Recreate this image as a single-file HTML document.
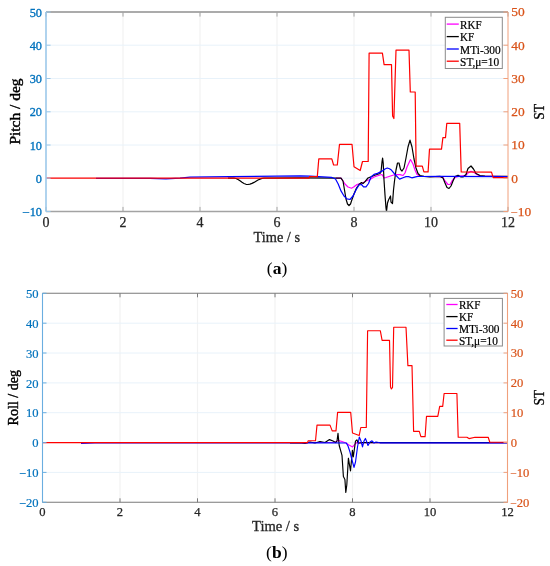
<!DOCTYPE html>
<html><head><meta charset="utf-8"><title>Pitch and Roll</title><style>html,body{margin:0;padding:0;background:#fff;width:550px;height:566px;overflow:hidden}svg{display:block}</style></head><body>
<svg width="550" height="566" viewBox="0 0 550 566" font-family="'Liberation Serif', 'Times New Roman', serif">
<rect width="550" height="566" fill="#fff"/>
<line x1="123.0" y1="12.0" x2="123.0" y2="211.5" stroke="#f2f2f2" stroke-width="1.2"/>
<line x1="200.0" y1="12.0" x2="200.0" y2="211.5" stroke="#f2f2f2" stroke-width="1.2"/>
<line x1="277.0" y1="12.0" x2="277.0" y2="211.5" stroke="#f2f2f2" stroke-width="1.2"/>
<line x1="354.0" y1="12.0" x2="354.0" y2="211.5" stroke="#f2f2f2" stroke-width="1.2"/>
<line x1="431.0" y1="12.0" x2="431.0" y2="211.5" stroke="#f2f2f2" stroke-width="1.2"/>
<line x1="46.0" y1="45.2" x2="508.0" y2="45.2" stroke="#e8f2fa" stroke-width="1"/>
<line x1="46.0" y1="78.5" x2="508.0" y2="78.5" stroke="#e8f2fa" stroke-width="1"/>
<line x1="46.0" y1="111.8" x2="508.0" y2="111.8" stroke="#e8f2fa" stroke-width="1"/>
<line x1="46.0" y1="145.0" x2="508.0" y2="145.0" stroke="#e8f2fa" stroke-width="1"/>
<line x1="46.0" y1="178.2" x2="508.0" y2="178.2" stroke="#e8f2fa" stroke-width="1"/>
<polyline points="336.0,178.2 341.0,178.1 343.0,181.0 345.0,184.0 348.0,187.0 351.5,188.2 354.0,186.8 357.0,184.5 360.0,183.7 363.0,182.8 366.0,181.0 370.0,179.5 374.0,177.0 377.0,176.0 380.0,175.0 382.0,174.5 384.0,178.0 386.0,177.5 389.0,176.5 392.0,175.5 395.5,174.5 400.0,174.6 403.0,175.5 405.0,173.0 407.0,167.0 410.5,159.5 413.0,164.0 415.0,170.0 417.0,174.5 420.0,176.3 425.0,176.5 440.0,176.6 443.0,177.5 445.0,181.0 448.0,184.5 450.0,184.5 452.0,181.0 455.0,177.5 460.0,176.0 466.0,175.5 468.0,173.0 471.0,171.3 474.0,172.5 477.0,174.5 480.0,176.0 508.0,176.5" fill="none" stroke="#ff00ff" stroke-width="1.2" stroke-linejoin="round"/>
<polyline points="228.0,178.2 234.0,178.2 236.0,178.5 238.0,179.5 240.0,180.8 242.0,182.3 244.0,183.5 246.0,184.3 248.0,184.5 250.0,184.1 252.0,183.4 254.0,182.4 256.0,181.2 258.0,180.0 260.0,179.1 262.0,178.4 264.0,178.2 300.0,177.9 341.0,178.1 343.0,181.0 344.5,190.0 346.0,199.0 347.5,204.0 349.0,205.5 350.5,204.0 352.0,199.5 354.0,194.0 356.5,188.0 359.0,184.5 361.5,182.5 363.0,183.5 365.0,181.6 368.0,178.0 371.0,176.8 374.0,175.5 377.0,174.5 380.0,173.5 381.0,172.0 382.0,162.0 382.6,158.0 383.2,163.0 384.0,180.0 385.0,195.0 386.0,208.0 386.5,211.5 387.5,203.0 388.5,200.0 389.5,198.0 390.5,196.0 391.0,202.0 392.5,203.5 393.5,190.0 394.5,181.0 396.0,170.0 397.5,163.0 399.0,163.0 400.5,169.3 402.0,171.0 404.0,168.0 406.0,158.0 408.0,147.0 410.0,140.2 412.0,147.0 414.0,159.0 416.0,168.0 418.0,173.5 420.0,175.5 424.0,176.3 430.0,176.8 440.0,176.4 443.0,178.0 445.0,183.0 447.0,187.5 449.0,188.5 451.0,186.0 453.0,181.0 455.0,176.5 458.0,175.2 461.0,177.0 463.0,177.0 466.0,174.5 468.0,168.5 471.0,166.0 473.5,169.0 476.0,173.5 480.0,175.5 485.0,176.0 508.0,176.3" fill="none" stroke="#000" stroke-width="1.2" stroke-linejoin="round"/>
<polyline points="96.0,178.3 150.0,178.3 166.0,178.8 180.0,178.2 190.0,177.2 230.0,176.6 300.0,175.8 310.0,176.2 331.4,177.3 335.5,179.0 338.2,184.0 341.0,190.9 344.0,196.0 347.0,198.9 350.0,199.5 353.0,196.0 356.0,190.0 359.0,185.0 361.5,184.5 363.5,186.8 366.0,186.9 368.5,183.5 371.0,177.0 374.0,174.4 377.5,173.4 382.4,170.9 385.0,169.0 387.3,168.0 389.5,168.8 391.4,170.1 395.5,175.0 399.6,179.1 403.6,177.5 406.0,176.6 408.6,176.6 411.8,177.8 416.7,176.6 418.0,176.5 440.0,176.4 508.0,176.6" fill="none" stroke="#0000ff" stroke-width="1.2" stroke-linejoin="round"/>
<polyline points="46.0,178.2 309.0,178.2 309.5,176.6 317.3,176.6 318.8,158.9 331.8,158.9 333.6,165.0 337.3,165.0 339.5,144.4 352.0,144.3 354.0,166.7 360.2,170.5 362.5,161.5 368.2,161.5 369.1,53.2 382.4,53.2 384.1,64.7 391.5,64.7 392.6,116.0 393.9,118.5 396.0,50.2 409.0,50.2 410.3,92.0 415.2,92.0 416.1,166.1 422.3,166.1 423.9,171.9 428.1,171.9 429.5,149.1 441.5,149.1 442.9,137.6 445.5,137.6 446.8,123.3 459.7,123.3 461.2,171.9 491.5,172.1 493.2,177.7 508.0,177.7" fill="none" stroke="#ff0000" stroke-width="1.2" stroke-linejoin="round"/>
<line x1="46.0" y1="12.0" x2="508.0" y2="12.0" stroke="#8f8f8f" stroke-width="1.5"/>
<line x1="46.0" y1="211.5" x2="508.0" y2="211.5" stroke="#a3a3a3" stroke-width="1.3"/>
<line x1="46.0" y1="12.0" x2="46.0" y2="16.6" stroke="#a3a3a3" stroke-width="1.0"/>
<line x1="46.0" y1="211.5" x2="46.0" y2="206.9" stroke="#a3a3a3" stroke-width="1.0"/>
<line x1="123.0" y1="12.0" x2="123.0" y2="16.6" stroke="#a3a3a3" stroke-width="1.0"/>
<line x1="123.0" y1="211.5" x2="123.0" y2="206.9" stroke="#a3a3a3" stroke-width="1.0"/>
<line x1="200.0" y1="12.0" x2="200.0" y2="16.6" stroke="#a3a3a3" stroke-width="1.0"/>
<line x1="200.0" y1="211.5" x2="200.0" y2="206.9" stroke="#a3a3a3" stroke-width="1.0"/>
<line x1="277.0" y1="12.0" x2="277.0" y2="16.6" stroke="#a3a3a3" stroke-width="1.0"/>
<line x1="277.0" y1="211.5" x2="277.0" y2="206.9" stroke="#a3a3a3" stroke-width="1.0"/>
<line x1="354.0" y1="12.0" x2="354.0" y2="16.6" stroke="#a3a3a3" stroke-width="1.0"/>
<line x1="354.0" y1="211.5" x2="354.0" y2="206.9" stroke="#a3a3a3" stroke-width="1.0"/>
<line x1="431.0" y1="12.0" x2="431.0" y2="16.6" stroke="#a3a3a3" stroke-width="1.0"/>
<line x1="431.0" y1="211.5" x2="431.0" y2="206.9" stroke="#a3a3a3" stroke-width="1.0"/>
<line x1="508.0" y1="12.0" x2="508.0" y2="16.6" stroke="#a3a3a3" stroke-width="1.0"/>
<line x1="508.0" y1="211.5" x2="508.0" y2="206.9" stroke="#a3a3a3" stroke-width="1.0"/>
<line x1="46.0" y1="12.0" x2="46.0" y2="211.5" stroke="#9cc8ea" stroke-width="1.6"/>
<line x1="508.0" y1="12.0" x2="508.0" y2="211.5" stroke="#f0a07c" stroke-width="1.0"/>
<line x1="46.0" y1="12.0" x2="50.6" y2="12.0" stroke="#9cc8ea" stroke-width="1.0"/>
<line x1="508.0" y1="12.0" x2="503.4" y2="12.0" stroke="#f0a07c" stroke-width="1.0"/>
<line x1="46.0" y1="45.2" x2="50.6" y2="45.2" stroke="#9cc8ea" stroke-width="1.0"/>
<line x1="508.0" y1="45.2" x2="503.4" y2="45.2" stroke="#f0a07c" stroke-width="1.0"/>
<line x1="46.0" y1="78.5" x2="50.6" y2="78.5" stroke="#9cc8ea" stroke-width="1.0"/>
<line x1="508.0" y1="78.5" x2="503.4" y2="78.5" stroke="#f0a07c" stroke-width="1.0"/>
<line x1="46.0" y1="111.8" x2="50.6" y2="111.8" stroke="#9cc8ea" stroke-width="1.0"/>
<line x1="508.0" y1="111.8" x2="503.4" y2="111.8" stroke="#f0a07c" stroke-width="1.0"/>
<line x1="46.0" y1="145.0" x2="50.6" y2="145.0" stroke="#9cc8ea" stroke-width="1.0"/>
<line x1="508.0" y1="145.0" x2="503.4" y2="145.0" stroke="#f0a07c" stroke-width="1.0"/>
<line x1="46.0" y1="178.2" x2="50.6" y2="178.2" stroke="#9cc8ea" stroke-width="1.0"/>
<line x1="508.0" y1="178.2" x2="503.4" y2="178.2" stroke="#f0a07c" stroke-width="1.0"/>
<line x1="46.0" y1="211.5" x2="50.6" y2="211.5" stroke="#9cc8ea" stroke-width="1.0"/>
<line x1="508.0" y1="211.5" x2="503.4" y2="211.5" stroke="#f0a07c" stroke-width="1.0"/>
<text x="42.0" y="16.6" text-anchor="end" font-size="13.4" fill="#0072BD" stroke="#0072BD" stroke-width="0.35" textLength="12.33" lengthAdjust="spacingAndGlyphs">50</text>
<text x="511.2" y="16.3" text-anchor="start" font-size="13.4" fill="#D95319" stroke="#D95319" stroke-width="0.25">50</text>
<text x="42.0" y="49.9" text-anchor="end" font-size="13.4" fill="#0072BD" stroke="#0072BD" stroke-width="0.35" textLength="12.33" lengthAdjust="spacingAndGlyphs">40</text>
<text x="511.2" y="49.5" text-anchor="start" font-size="13.4" fill="#D95319" stroke="#D95319" stroke-width="0.25">40</text>
<text x="42.0" y="83.1" text-anchor="end" font-size="13.4" fill="#0072BD" stroke="#0072BD" stroke-width="0.35" textLength="12.33" lengthAdjust="spacingAndGlyphs">30</text>
<text x="511.2" y="82.8" text-anchor="start" font-size="13.4" fill="#D95319" stroke="#D95319" stroke-width="0.25">30</text>
<text x="42.0" y="116.3" text-anchor="end" font-size="13.4" fill="#0072BD" stroke="#0072BD" stroke-width="0.35" textLength="12.33" lengthAdjust="spacingAndGlyphs">20</text>
<text x="511.2" y="116.0" text-anchor="start" font-size="13.4" fill="#D95319" stroke="#D95319" stroke-width="0.25">20</text>
<text x="42.0" y="149.6" text-anchor="end" font-size="13.4" fill="#0072BD" stroke="#0072BD" stroke-width="0.35" textLength="12.33" lengthAdjust="spacingAndGlyphs">10</text>
<text x="511.2" y="149.3" text-anchor="start" font-size="13.4" fill="#D95319" stroke="#D95319" stroke-width="0.25">10</text>
<text x="42.0" y="182.8" text-anchor="end" font-size="13.4" fill="#0072BD" stroke="#0072BD" stroke-width="0.35" textLength="6.16" lengthAdjust="spacingAndGlyphs">0</text>
<text x="511.2" y="182.6" text-anchor="start" font-size="13.4" fill="#D95319" stroke="#D95319" stroke-width="0.25">0</text>
<text x="42.0" y="216.1" text-anchor="end" font-size="13.4" fill="#0072BD" stroke="#0072BD" stroke-width="0.35" textLength="12.33" lengthAdjust="spacingAndGlyphs">10</text>
<text x="29.1" y="214.8" text-anchor="end" font-size="13.4" fill="#0072BD" stroke="#0072BD" stroke-width="0.35" textLength="6" lengthAdjust="spacingAndGlyphs">–</text>
<text x="511.2" y="214.5" font-size="13.4" fill="#D95319" textLength="6" lengthAdjust="spacingAndGlyphs">–</text>
<text x="517.8" y="215.8" text-anchor="start" font-size="13.4" fill="#D95319" stroke="#D95319" stroke-width="0.25">10</text>
<text x="46.0" y="226.7" text-anchor="middle" font-size="14" fill="#262626" stroke="#262626" stroke-width="0.25">0</text>
<text x="123.0" y="226.7" text-anchor="middle" font-size="14" fill="#262626" stroke="#262626" stroke-width="0.25">2</text>
<text x="200.0" y="226.7" text-anchor="middle" font-size="14" fill="#262626" stroke="#262626" stroke-width="0.25">4</text>
<text x="277.0" y="226.7" text-anchor="middle" font-size="14" fill="#262626" stroke="#262626" stroke-width="0.25">6</text>
<text x="354.0" y="226.7" text-anchor="middle" font-size="14" fill="#262626" stroke="#262626" stroke-width="0.25">8</text>
<text x="431.0" y="226.7" text-anchor="middle" font-size="14" fill="#262626" stroke="#262626" stroke-width="0.25">10</text>
<text x="508.0" y="226.7" text-anchor="middle" font-size="14" fill="#262626" stroke="#262626" stroke-width="0.25">12</text>
<text transform="translate(20.2,144.6) rotate(-90)" font-size="14" fill="#000" stroke="#000" stroke-width="0.4" textLength="66.1" lengthAdjust="spacingAndGlyphs">Pitch / deg</text>
<text transform="translate(544.0,119.7) rotate(-90)" font-size="14" fill="#000" stroke="#000" stroke-width="0.3" textLength="15.7" lengthAdjust="spacingAndGlyphs">ST</text>
<text x="253.5" y="241.5" font-size="14" fill="#262626" stroke="#262626" stroke-width="0.3" textLength="46.5" lengthAdjust="spacingAndGlyphs">Time / s</text>
<text x="277" y="273.8" text-anchor="middle" font-size="17.5" fill="#000">(<tspan font-weight="bold">a</tspan>)</text>
<rect x="445.3" y="17.3" width="57.0" height="51.2" fill="#fff" stroke="#8a8a8a" stroke-width="1"/>
<line x1="446.7" y1="24.1" x2="458.8" y2="24.1" stroke="#ff00ff" stroke-width="1.3"/>
<text x="460.1" y="28.6" font-size="11.8" fill="#000" stroke="#000" stroke-width="0.2" textLength="21.6" lengthAdjust="spacingAndGlyphs">RKF</text>
<line x1="446.7" y1="36.6" x2="458.8" y2="36.6" stroke="#000" stroke-width="1.3"/>
<text x="460.1" y="41.1" font-size="11.8" fill="#000" stroke="#000" stroke-width="0.2" textLength="14.2" lengthAdjust="spacingAndGlyphs">KF</text>
<line x1="446.7" y1="49.0" x2="458.8" y2="49.0" stroke="#0000ff" stroke-width="1.3"/>
<text x="460.1" y="53.5" font-size="11.8" fill="#000" stroke="#000" stroke-width="0.2" textLength="40.6" lengthAdjust="spacingAndGlyphs">MTi-300</text>
<line x1="446.7" y1="61.2" x2="458.8" y2="61.2" stroke="#ff0000" stroke-width="1.3"/>
<text x="460.1" y="65.7" font-size="11.8" fill="#000" stroke="#000" stroke-width="0.2" textLength="39.0" lengthAdjust="spacingAndGlyphs">ST,μ=10</text>
<line x1="120.0" y1="293.3" x2="120.0" y2="502.3" stroke="#f2f2f2" stroke-width="1.2"/>
<line x1="197.5" y1="293.3" x2="197.5" y2="502.3" stroke="#f2f2f2" stroke-width="1.2"/>
<line x1="275.0" y1="293.3" x2="275.0" y2="502.3" stroke="#f2f2f2" stroke-width="1.2"/>
<line x1="352.5" y1="293.3" x2="352.5" y2="502.3" stroke="#f2f2f2" stroke-width="1.2"/>
<line x1="430.0" y1="293.3" x2="430.0" y2="502.3" stroke="#f2f2f2" stroke-width="1.2"/>
<line x1="42.5" y1="323.2" x2="507.5" y2="323.2" stroke="#e8f2fa" stroke-width="1"/>
<line x1="42.5" y1="353.0" x2="507.5" y2="353.0" stroke="#e8f2fa" stroke-width="1"/>
<line x1="42.5" y1="382.9" x2="507.5" y2="382.9" stroke="#e8f2fa" stroke-width="1"/>
<line x1="42.5" y1="412.7" x2="507.5" y2="412.7" stroke="#e8f2fa" stroke-width="1"/>
<line x1="42.5" y1="442.6" x2="507.5" y2="442.6" stroke="#e8f2fa" stroke-width="1"/>
<line x1="42.5" y1="472.4" x2="507.5" y2="472.4" stroke="#e8f2fa" stroke-width="1"/>
<polyline points="300.0,442.6 335.0,442.3 338.0,440.4 342.0,441.5 346.0,443.0 349.0,445.0 352.6,446.9 355.0,444.0 357.0,442.5 507.5,442.6" fill="none" stroke="#ff00ff" stroke-width="1.15" stroke-linejoin="round"/>
<polyline points="290.0,442.8 300.0,442.8 305.0,443.5 310.0,442.0 315.0,443.0 320.0,441.5 325.0,442.5 329.5,439.6 333.0,441.0 335.7,442.6 337.0,441.0 338.0,433.4 339.2,445.5 342.0,455.4 343.4,476.6 344.9,479.4 345.8,492.4 346.8,485.0 348.4,458.2 350.5,471.0 352.4,450.4 353.3,456.8 355.5,441.2 356.9,439.8 358.3,443.3 362.0,442.6 507.5,442.6" fill="none" stroke="#000" stroke-width="1.15" stroke-linejoin="round"/>
<polyline points="81.0,443.4 95.0,442.9 290.0,442.9 330.0,442.9 346.3,443.0 348.0,446.0 350.0,452.0 352.0,460.0 354.0,467.4 355.5,462.0 357.5,447.0 359.3,437.0 361.0,441.0 362.5,446.9 364.0,441.0 365.4,438.4 366.8,442.0 368.0,445.5 370.0,442.0 372.0,440.8 374.0,443.0 376.0,442.0 380.0,442.8 507.5,442.9" fill="none" stroke="#0000ff" stroke-width="1.15" stroke-linejoin="round"/>
<polyline points="42.5,442.6 307.5,442.6 308.2,440.7 315.5,440.7 317.0,425.1 330.0,425.1 332.2,430.9 336.0,430.9 337.6,412.4 350.7,412.4 352.5,433.0 359.2,435.5 360.8,427.5 366.3,427.5 367.6,330.7 380.3,330.7 382.1,340.3 389.5,340.3 390.5,387.0 391.4,389.0 392.5,387.5 393.7,327.2 406.0,327.2 407.9,365.6 412.0,365.6 413.6,431.3 419.3,431.3 420.9,436.6 425.1,436.6 426.5,416.3 437.8,416.3 439.7,406.4 442.7,406.4 444.1,393.5 456.9,393.5 458.2,437.2 466.9,437.2 469.0,438.6 475.0,437.3 488.2,437.3 489.8,442.2 507.5,442.2" fill="none" stroke="#ff0000" stroke-width="1.15" stroke-linejoin="round"/>
<line x1="42.5" y1="293.3" x2="507.5" y2="293.3" stroke="#7a7a7a" stroke-width="1.1"/>
<line x1="42.5" y1="502.3" x2="507.5" y2="502.3" stroke="#7a7a7a" stroke-width="1.1"/>
<line x1="42.5" y1="293.3" x2="42.5" y2="297.3" stroke="#7a7a7a" stroke-width="1.0"/>
<line x1="42.5" y1="502.3" x2="42.5" y2="498.3" stroke="#7a7a7a" stroke-width="1.0"/>
<line x1="120.0" y1="293.3" x2="120.0" y2="297.3" stroke="#7a7a7a" stroke-width="1.0"/>
<line x1="120.0" y1="502.3" x2="120.0" y2="498.3" stroke="#7a7a7a" stroke-width="1.0"/>
<line x1="197.5" y1="293.3" x2="197.5" y2="297.3" stroke="#7a7a7a" stroke-width="1.0"/>
<line x1="197.5" y1="502.3" x2="197.5" y2="498.3" stroke="#7a7a7a" stroke-width="1.0"/>
<line x1="275.0" y1="293.3" x2="275.0" y2="297.3" stroke="#7a7a7a" stroke-width="1.0"/>
<line x1="275.0" y1="502.3" x2="275.0" y2="498.3" stroke="#7a7a7a" stroke-width="1.0"/>
<line x1="352.5" y1="293.3" x2="352.5" y2="297.3" stroke="#7a7a7a" stroke-width="1.0"/>
<line x1="352.5" y1="502.3" x2="352.5" y2="498.3" stroke="#7a7a7a" stroke-width="1.0"/>
<line x1="430.0" y1="293.3" x2="430.0" y2="297.3" stroke="#7a7a7a" stroke-width="1.0"/>
<line x1="430.0" y1="502.3" x2="430.0" y2="498.3" stroke="#7a7a7a" stroke-width="1.0"/>
<line x1="507.5" y1="293.3" x2="507.5" y2="297.3" stroke="#7a7a7a" stroke-width="1.0"/>
<line x1="507.5" y1="502.3" x2="507.5" y2="498.3" stroke="#7a7a7a" stroke-width="1.0"/>
<line x1="42.5" y1="293.3" x2="42.5" y2="502.3" stroke="#6aaee0" stroke-width="1.1"/>
<line x1="507.5" y1="293.3" x2="507.5" y2="502.3" stroke="#f0a07c" stroke-width="1.1"/>
<line x1="42.5" y1="293.3" x2="46.5" y2="293.3" stroke="#6aaee0" stroke-width="1.0"/>
<line x1="507.5" y1="293.3" x2="503.5" y2="293.3" stroke="#f0a07c" stroke-width="1.0"/>
<line x1="42.5" y1="323.2" x2="46.5" y2="323.2" stroke="#6aaee0" stroke-width="1.0"/>
<line x1="507.5" y1="323.2" x2="503.5" y2="323.2" stroke="#f0a07c" stroke-width="1.0"/>
<line x1="42.5" y1="353.0" x2="46.5" y2="353.0" stroke="#6aaee0" stroke-width="1.0"/>
<line x1="507.5" y1="353.0" x2="503.5" y2="353.0" stroke="#f0a07c" stroke-width="1.0"/>
<line x1="42.5" y1="382.9" x2="46.5" y2="382.9" stroke="#6aaee0" stroke-width="1.0"/>
<line x1="507.5" y1="382.9" x2="503.5" y2="382.9" stroke="#f0a07c" stroke-width="1.0"/>
<line x1="42.5" y1="412.7" x2="46.5" y2="412.7" stroke="#6aaee0" stroke-width="1.0"/>
<line x1="507.5" y1="412.7" x2="503.5" y2="412.7" stroke="#f0a07c" stroke-width="1.0"/>
<line x1="42.5" y1="442.6" x2="46.5" y2="442.6" stroke="#6aaee0" stroke-width="1.0"/>
<line x1="507.5" y1="442.6" x2="503.5" y2="442.6" stroke="#f0a07c" stroke-width="1.0"/>
<line x1="42.5" y1="472.4" x2="46.5" y2="472.4" stroke="#6aaee0" stroke-width="1.0"/>
<line x1="507.5" y1="472.4" x2="503.5" y2="472.4" stroke="#f0a07c" stroke-width="1.0"/>
<line x1="42.5" y1="502.3" x2="46.5" y2="502.3" stroke="#6aaee0" stroke-width="1.0"/>
<line x1="507.5" y1="502.3" x2="503.5" y2="502.3" stroke="#f0a07c" stroke-width="1.0"/>
<text x="38.5" y="297.9" text-anchor="end" font-size="12.6" fill="#0072BD" stroke="#0072BD" stroke-width="0.2" textLength="12.60" lengthAdjust="spacingAndGlyphs">50</text>
<text x="510.7" y="297.6" text-anchor="start" font-size="12.6" fill="#D95319" stroke="#D95319" stroke-width="0.2">50</text>
<text x="38.5" y="327.8" text-anchor="end" font-size="12.6" fill="#0072BD" stroke="#0072BD" stroke-width="0.2" textLength="12.60" lengthAdjust="spacingAndGlyphs">40</text>
<text x="510.7" y="327.5" text-anchor="start" font-size="12.6" fill="#D95319" stroke="#D95319" stroke-width="0.2">40</text>
<text x="38.5" y="357.6" text-anchor="end" font-size="12.6" fill="#0072BD" stroke="#0072BD" stroke-width="0.2" textLength="12.60" lengthAdjust="spacingAndGlyphs">30</text>
<text x="510.7" y="357.3" text-anchor="start" font-size="12.6" fill="#D95319" stroke="#D95319" stroke-width="0.2">30</text>
<text x="38.5" y="387.5" text-anchor="end" font-size="12.6" fill="#0072BD" stroke="#0072BD" stroke-width="0.2" textLength="12.60" lengthAdjust="spacingAndGlyphs">20</text>
<text x="510.7" y="387.2" text-anchor="start" font-size="12.6" fill="#D95319" stroke="#D95319" stroke-width="0.2">20</text>
<text x="38.5" y="417.3" text-anchor="end" font-size="12.6" fill="#0072BD" stroke="#0072BD" stroke-width="0.2" textLength="12.60" lengthAdjust="spacingAndGlyphs">10</text>
<text x="510.7" y="417.0" text-anchor="start" font-size="12.6" fill="#D95319" stroke="#D95319" stroke-width="0.2">10</text>
<text x="38.5" y="447.2" text-anchor="end" font-size="12.6" fill="#0072BD" stroke="#0072BD" stroke-width="0.2" textLength="6.30" lengthAdjust="spacingAndGlyphs">0</text>
<text x="510.7" y="446.9" text-anchor="start" font-size="12.6" fill="#D95319" stroke="#D95319" stroke-width="0.2">0</text>
<text x="38.5" y="477.0" text-anchor="end" font-size="12.6" fill="#0072BD" stroke="#0072BD" stroke-width="0.2" textLength="12.60" lengthAdjust="spacingAndGlyphs">10</text>
<text x="25.4" y="476.0" text-anchor="end" font-size="12.6" fill="#0072BD" stroke="#0072BD" stroke-width="0.2" textLength="5.5" lengthAdjust="spacingAndGlyphs">–</text>
<text x="510.7" y="475.7" font-size="12.6" fill="#D95319" textLength="5.5" lengthAdjust="spacingAndGlyphs">–</text>
<text x="516.7" y="476.7" text-anchor="start" font-size="12.6" fill="#D95319" stroke="#D95319" stroke-width="0.2">10</text>
<text x="38.5" y="506.9" text-anchor="end" font-size="12.6" fill="#0072BD" stroke="#0072BD" stroke-width="0.2" textLength="12.60" lengthAdjust="spacingAndGlyphs">20</text>
<text x="25.4" y="505.9" text-anchor="end" font-size="12.6" fill="#0072BD" stroke="#0072BD" stroke-width="0.2" textLength="5.5" lengthAdjust="spacingAndGlyphs">–</text>
<text x="510.7" y="505.6" font-size="12.6" fill="#D95319" textLength="5.5" lengthAdjust="spacingAndGlyphs">–</text>
<text x="516.7" y="506.6" text-anchor="start" font-size="12.6" fill="#D95319" stroke="#D95319" stroke-width="0.2">20</text>
<text x="42.5" y="515.9" text-anchor="middle" font-size="12.6" fill="#262626" stroke="#262626" stroke-width="0.25">0</text>
<text x="120.0" y="515.9" text-anchor="middle" font-size="12.6" fill="#262626" stroke="#262626" stroke-width="0.25">2</text>
<text x="197.5" y="515.9" text-anchor="middle" font-size="12.6" fill="#262626" stroke="#262626" stroke-width="0.25">4</text>
<text x="275.0" y="515.9" text-anchor="middle" font-size="12.6" fill="#262626" stroke="#262626" stroke-width="0.25">6</text>
<text x="352.5" y="515.9" text-anchor="middle" font-size="12.6" fill="#262626" stroke="#262626" stroke-width="0.25">8</text>
<text x="430.0" y="515.9" text-anchor="middle" font-size="12.6" fill="#262626" stroke="#262626" stroke-width="0.25">10</text>
<text x="507.5" y="515.9" text-anchor="middle" font-size="12.6" fill="#262626" stroke="#262626" stroke-width="0.25">12</text>
<text transform="translate(17.5,425.5) rotate(-90)" font-size="14" fill="#000" stroke="#000" stroke-width="0.4" textLength="55.6" lengthAdjust="spacingAndGlyphs">Roll / deg</text>
<text transform="translate(544.0,405.6) rotate(-90)" font-size="14" fill="#000" stroke="#000" stroke-width="0.3" textLength="15.6" lengthAdjust="spacingAndGlyphs">ST</text>
<text x="252.0" y="530.5" font-size="14" fill="#262626" stroke="#262626" stroke-width="0.3" textLength="47.2" lengthAdjust="spacingAndGlyphs">Time / s</text>
<text x="276.8" y="558.3" text-anchor="middle" font-size="17.5" fill="#000">(<tspan font-weight="bold">b</tspan>)</text>
<rect x="444.1" y="298.4" width="58.3" height="47.6" fill="#fff" stroke="#8a8a8a" stroke-width="1"/>
<line x1="446.3" y1="304.5" x2="457.6" y2="304.5" stroke="#ff00ff" stroke-width="1.3"/>
<text x="458.9" y="309.0" font-size="11.8" fill="#000" stroke="#000" stroke-width="0.2" textLength="21.6" lengthAdjust="spacingAndGlyphs">RKF</text>
<line x1="446.3" y1="316.6" x2="457.6" y2="316.6" stroke="#000" stroke-width="1.3"/>
<text x="458.9" y="321.1" font-size="11.8" fill="#000" stroke="#000" stroke-width="0.2" textLength="14.2" lengthAdjust="spacingAndGlyphs">KF</text>
<line x1="446.3" y1="328.5" x2="457.6" y2="328.5" stroke="#0000ff" stroke-width="1.3"/>
<text x="458.9" y="333.0" font-size="11.8" fill="#000" stroke="#000" stroke-width="0.2" textLength="40.6" lengthAdjust="spacingAndGlyphs">MTi-300</text>
<line x1="446.3" y1="340.2" x2="457.6" y2="340.2" stroke="#ff0000" stroke-width="1.3"/>
<text x="458.9" y="344.7" font-size="11.8" fill="#000" stroke="#000" stroke-width="0.2" textLength="39.0" lengthAdjust="spacingAndGlyphs">ST,μ=10</text>
</svg>
</body></html>
